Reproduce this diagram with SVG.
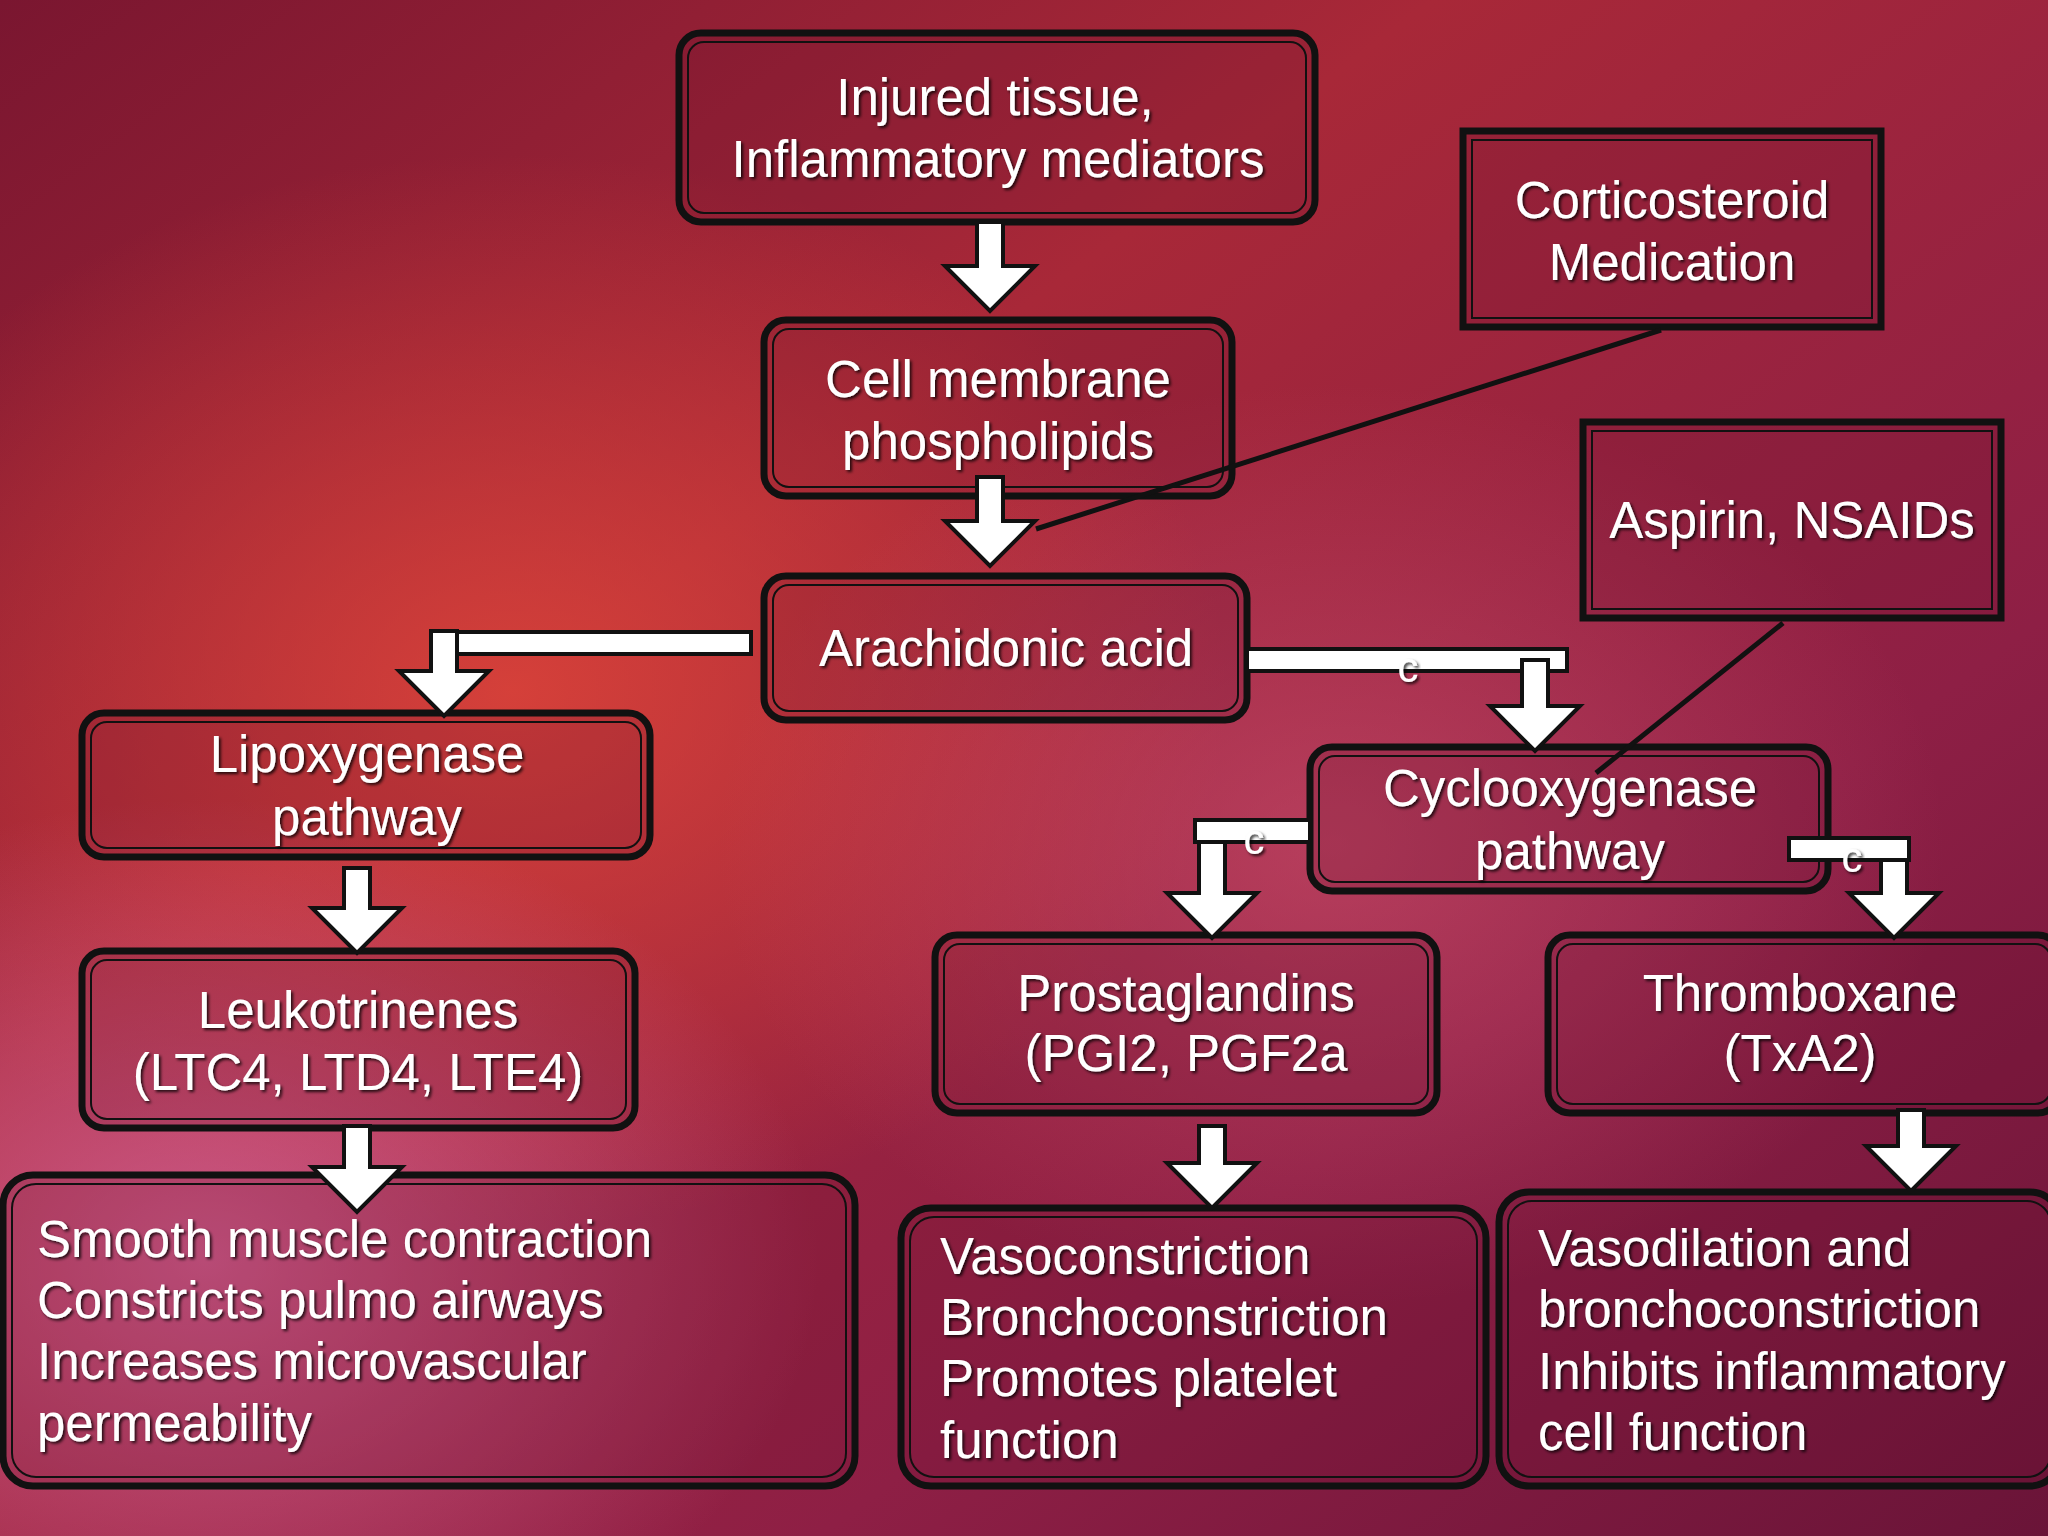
<svg xmlns="http://www.w3.org/2000/svg" width="2048" height="1536" viewBox="0 0 2048 1536">
<defs>
<linearGradient id="bg" x1="0" y1="0" x2="1" y2="1">
<stop offset="0" stop-color="#7a1630"/><stop offset="0.35" stop-color="#a82838"/><stop offset="0.7" stop-color="#8e1f45"/><stop offset="1" stop-color="#6a1438"/>
</linearGradient>
<radialGradient id="r1" cx="0.25" cy="0.45" r="0.35"><stop offset="0" stop-color="#e0463a" stop-opacity="0.8"/><stop offset="1" stop-color="#e0463a" stop-opacity="0"/></radialGradient>
<radialGradient id="r2" cx="0.1" cy="0.82" r="0.3"><stop offset="0" stop-color="#e070a8" stop-opacity="0.7"/><stop offset="1" stop-color="#e070a8" stop-opacity="0"/></radialGradient>
<radialGradient id="r3" cx="0.65" cy="0.55" r="0.3"><stop offset="0" stop-color="#d85a78" stop-opacity="0.5"/><stop offset="1" stop-color="#d85a78" stop-opacity="0"/></radialGradient>
<filter id="sh"><feDropShadow dx="2" dy="2" stdDeviation="1.5" flood-color="#000" flood-opacity="0.8"/></filter>
</defs>
<style>
.o{fill:rgba(100,15,45,0.2);stroke:#111;stroke-width:7}
.i{fill:none;stroke:#111;stroke-width:2}
text{font-family:"Liberation Sans",Arial,sans-serif;font-size:51px;fill:#fff;filter:url(#sh)}
.c{text-anchor:middle}
.a{fill:#fff;stroke:#111;stroke-width:4;stroke-linejoin:miter}
.l{stroke:#111;stroke-width:5}
.s{font-size:42px}
</style>
<rect width="2048" height="1536" fill="url(#bg)"/>
<rect width="2048" height="1536" fill="url(#r1)"/>
<rect width="2048" height="1536" fill="url(#r2)"/>
<rect width="2048" height="1536" fill="url(#r3)"/>

<g id="injured"><rect class="o" x="679" y="33" width="636" height="189" rx="22"/><rect class="i" x="688" y="42" width="618" height="171" rx="16"/>
<text class="c" x="995" y="115">Injured tissue,</text><text class="c" x="998" y="177">Inflammatory mediators</text></g>
<g id="cortico"><rect class="o" x="1463" y="131" width="418" height="196"/><rect class="i" x="1472" y="140" width="400" height="178"/>
<text class="c" x="1672" y="218">Corticosteroid</text><text class="c" x="1672" y="280">Medication</text></g>
<g id="cell"><rect class="o" x="764" y="320" width="468" height="176" rx="22"/><rect class="i" x="773" y="329" width="450" height="158" rx="16"/>
<text class="c" x="998" y="397">Cell membrane</text><text class="c" x="998" y="459">phospholipids</text></g>
<g id="aspirin"><rect class="o" x="1583" y="422" width="418" height="196"/><rect class="i" x="1592" y="431" width="400" height="178"/>
<text class="c" x="1792" y="538">Aspirin, NSAIDs</text></g>
<g id="arach"><rect class="o" x="764" y="576" width="483" height="144" rx="22"/><rect class="i" x="773" y="585" width="465" height="126" rx="16"/>
<text class="c" x="1006" y="666">Arachidonic acid</text></g>
<g id="lipo"><rect class="o" x="82" y="713" width="568" height="144" rx="22"/><rect class="i" x="91" y="722" width="550" height="126" rx="16"/>
<text class="c" x="367" y="772">Lipoxygenase</text><text class="c" x="367" y="835">pathway</text></g>
<g id="cyclo"><rect class="o" x="1310" y="747" width="518" height="144" rx="22"/><rect class="i" x="1319" y="756" width="500" height="126" rx="16"/>
<text class="c" x="1570" y="806">Cyclooxygenase</text><text class="c" x="1570" y="869">pathway</text></g>
<g id="leuko"><rect class="o" x="82" y="951" width="553" height="177" rx="22"/><rect class="i" x="91" y="960" width="535" height="159" rx="16"/>
<text class="c" x="358" y="1028">Leukotrinenes</text><text class="c" x="358" y="1090">(LTC4, LTD4, LTE4)</text></g>
<g id="prosta"><rect class="o" x="935" y="935" width="502" height="178" rx="22"/><rect class="i" x="944" y="944" width="484" height="160" rx="16"/>
<text class="c" x="1186" y="1011">Prostaglandins</text><text class="c" x="1186" y="1071">(PGI2, PGF2a</text></g>
<g id="thromb"><rect class="o" x="1548" y="935" width="512" height="178" rx="22"/><rect class="i" x="1557" y="944" width="494" height="160" rx="16"/>
<text class="c" x="1800" y="1011">Thromboxane</text><text class="c" x="1800" y="1071">(TxA2)</text></g>
<g id="smooth"><rect class="o" x="3" y="1175" width="852" height="311" rx="30"/><rect class="i" x="12" y="1184" width="834" height="293" rx="24"/>
<text x="37" y="1257">Smooth muscle contraction</text><text x="37" y="1318">Constricts pulmo airways</text><text x="37" y="1379">Increases microvascular</text><text x="37" y="1441">permeability</text></g>
<g id="vaso"><rect class="o" x="901" y="1208" width="585" height="278" rx="30"/><rect class="i" x="910" y="1217" width="567" height="260" rx="24"/>
<text x="940" y="1274">Vasoconstriction</text><text x="940" y="1335">Bronchoconstriction</text><text x="940" y="1396">Promotes platelet</text><text x="940" y="1458">function</text></g>
<g id="vasodil"><rect class="o" x="1499" y="1192" width="561" height="294" rx="30"/><rect class="i" x="1508" y="1201" width="543" height="276" rx="24"/>
<text x="1538" y="1266">Vasodilation and</text><text x="1538" y="1327">bronchoconstriction</text><text x="1538" y="1389">Inhibits inflammatory</text><text x="1538" y="1450">cell function</text></g>

<g id="connectors">
<polygon class="a" points="977,222 1003,222 1003,266 1035,266 990,311 945,266 977,266"/>
<polygon class="a" points="977,477 1003,477 1003,521 1035,521 990,566 945,521 977,521"/>
<rect class="a" x="444" y="632" width="307" height="22"/>
<polygon class="a" points="431,631 457,631 457,671 489,671 444,716 399,671 431,671"/>
<rect class="a" x="1247" y="649" width="320" height="22"/>
<polygon class="a" points="1522,660 1548,660 1548,706 1580,706 1535,751 1490,706 1522,706"/>
<text class="c s" x="1408" y="682">c</text>
<rect class="a" x="1195" y="820" width="115" height="22"/>
<polygon class="a" points="1199,842 1225,842 1225,893 1257,893 1212,938 1167,893 1199,893"/>
<text class="c s" x="1254" y="854">c</text>
<rect class="a" x="1789" y="838" width="120" height="22"/>
<polygon class="a" points="1881,860 1907,860 1907,893 1939,893 1894,938 1849,893 1881,893"/>
<text class="c s" x="1852" y="872">c</text>
<polygon class="a" points="344,868 370,868 370,908 402,908 357,953 312,908 344,908"/>
<polygon class="a" points="344,1126 370,1126 370,1167 402,1167 357,1212 312,1167 344,1167"/>
<polygon class="a" points="1199,1126 1225,1126 1225,1163 1257,1163 1212,1208 1167,1163 1199,1163"/>
<polygon class="a" points="1898,1110 1924,1110 1924,1146 1956,1146 1911,1191 1866,1146 1898,1146"/>
<line class="l" x1="1661" y1="330" x2="1036" y2="529"/>
<line class="l" x1="1783" y1="623" x2="1596" y2="773"/>
</g>
</svg>
